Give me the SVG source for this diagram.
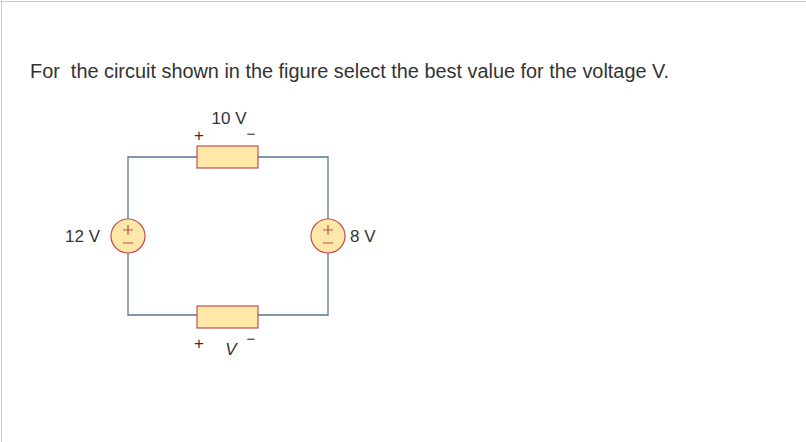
<svg xmlns="http://www.w3.org/2000/svg" width="806" height="442" viewBox="0 0 806 442">
<style>
.w{stroke:#5a7591;stroke-width:1.3;fill:none}
.r{fill:#fde8a8;stroke:#c0504d;stroke-width:1.2}
.s{fill:#fde8a8;stroke:#c0504d;stroke-width:1.2}
.t{font-family:"Liberation Sans",Arial,sans-serif;fill:#333}
.p{stroke:#c0504d;stroke-width:1.2}
</style>
<rect width="806" height="442" fill="#fff"/>
<path d="M0 1.5H806M1.5 0V442" stroke="#ccc" stroke-width="1"/>
<text class="t" x="30" y="78" font-size="19.5" xml:space="preserve" textLength="639" lengthAdjust="spacingAndGlyphs">For  the circuit shown in the figure select the best value for the voltage V.</text>
<g id="wires">
<path class="w" d="M128 219V157H197M258 157H328V219M328 253V315H258M197 315H128V253"/>
</g>
<g id="r1"><rect class="r" x="197" y="146" width="61" height="22"/>
<text class="t" x="229" y="124" font-size="17" text-anchor="middle">10 V</text>
<text class="t" x="199" y="141" font-size="17" text-anchor="middle">+</text>
<text class="t" x="251" y="139" font-size="15" text-anchor="middle">−</text></g>
<g id="r2"><rect class="r" x="197" y="306" width="61" height="22"/>
<text class="t" x="199" y="349" font-size="17" text-anchor="middle">+</text>
<text class="t" x="231" y="355" font-size="17" font-style="italic" text-anchor="middle">V</text>
<text class="t" x="251" y="344" font-size="15" text-anchor="middle">−</text></g>
<g id="v12"><circle class="s" cx="128" cy="236" r="17"/>
<path class="p" d="M123 230H133M128 225V235M123 243H133"/>
<text class="t" x="100" y="242" font-size="17" text-anchor="end">12 V</text></g>
<g id="v8"><circle class="s" cx="328" cy="236" r="17"/>
<path class="p" d="M323 230H333M328 225V235M323 243H333"/>
<text class="t" x="350" y="242" font-size="17">8 V</text></g>
</svg>
